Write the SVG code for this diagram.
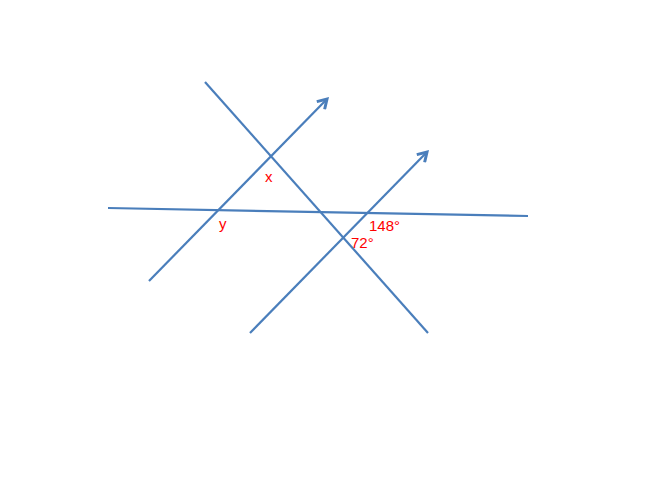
<svg xmlns="http://www.w3.org/2000/svg" width="667" height="500" viewBox="0 0 667 500">
<style>
.ln{stroke:#4a7ebb;stroke-width:2.2;fill:none}
.lb{fill:#ff0000;font-family:"Liberation Sans",Arial,sans-serif;font-size:15px}
</style>
<defs>
<marker id="arr" markerWidth="14" markerHeight="14" refX="10" refY="7" orient="auto" markerUnits="userSpaceOnUse">
<polyline points="1,1.5 10,7 1,12.5" fill="none" stroke="#4a7ebb" stroke-width="3" stroke-linejoin="miter"/>
</marker>
</defs>
<rect width="667" height="500" fill="#ffffff"/>
<g id="connectors">
<line class="ln" x1="108" y1="208" x2="528" y2="216"/>
<line class="ln" x1="205" y1="82" x2="428" y2="333"/>
<line class="ln" x1="149" y1="281" x2="327" y2="99" marker-end="url(#arr)"/>
<line class="ln" x1="250" y1="333" x2="427" y2="152" marker-end="url(#arr)"/>
</g>
<g id="labels">
<text class="lb" x="265" y="182">x</text>
<text class="lb" x="219" y="229">y</text>
<text class="lb" x="369" y="231">148°</text>
<text class="lb" x="351" y="248">72°</text>
</g>
</svg>
